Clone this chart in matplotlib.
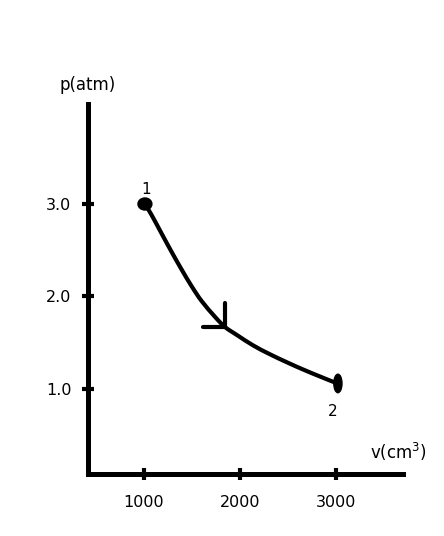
import matplotlib.pyplot as plt
from matplotlib.patches import Ellipse, PathPatch
from matplotlib.path import Path

# process curve (v in cm^3, p in atm)
v_curve = [1010, 1080, 1184, 1289, 1393, 1497, 1601, 1740, 1844,
           1966, 2139, 2313, 2486, 2659, 2833, 2990, 3020]
p_curve = [3.00, 2.88, 2.68, 2.48, 2.29, 2.11, 1.95, 1.78, 1.67,
           1.585, 1.47, 1.375, 1.29, 1.21, 1.135, 1.07, 1.06]

# arrow head drawn on the curve
arrow_h_v = [1615, 1844]
arrow_h_p = [1.67, 1.67]
arrow_v_v = [1844, 1844]
arrow_v_p = [1.93, 1.68]

x_ticks = [1000, 2000, 3000]
x_tick_labels = ["1000", "2000", "3000"]
y_ticks = [1.0, 2.0, 3.0]
y_tick_labels = ["1.0", "2.0", "3.0"]
state_labels = ["1", "2"]

plt.rcParams['font.family'] = ['DejaVu Sans']


def smooth_path(xs, ys):
    # catmull-rom through the read points, drawn as cubic bezier segments
    pts = list(zip(xs, ys))
    verts = [pts[0]]
    codes = [Path.MOVETO]
    for i in range(len(pts) - 1):
        p0 = pts[max(i - 1, 0)]
        p1 = pts[i]
        p2 = pts[i + 1]
        p3 = pts[min(i + 2, len(pts) - 1)]
        c1 = (p1[0] + (p2[0] - p0[0]) / 6, p1[1] + (p2[1] - p0[1]) / 6)
        c2 = (p2[0] - (p3[0] - p1[0]) / 6, p2[1] - (p3[1] - p1[1]) / 6)
        verts += [c1, c2, p2]
        codes += [Path.CURVE4] * 3
    return Path(verts, codes)


fig = plt.figure(figsize=(4.44, 5.36), dpi=100)
ax = fig.add_axes([88 / 444, 1 - 474 / 536, 315 / 444, 370 / 536])
ax.set_xlim(417, 3698)
ax.set_ylim(0.081, 4.081)

ax.add_patch(PathPatch(smooth_path(v_curve, p_curve), fill=False, color="black",
                       lw=3.0, capstyle="round", joinstyle="round"))
ax.plot(arrow_h_v, arrow_h_p, color="black", lw=3.0, solid_capstyle="round")
ax.plot(arrow_v_v, arrow_v_p, color="black", lw=3.0, solid_capstyle="round")

# end state dots
ax.add_patch(Ellipse((v_curve[0], p_curve[0]), 145, 0.13, color="black"))
ax.add_patch(Ellipse((v_curve[-1], p_curve[-1]), 85, 0.2, color="black"))

ax.text(v_curve[0] + 10, p_curve[0] + 0.08, state_labels[0], fontsize=11,
        ha="center", va="bottom")
ax.text(v_curve[-1] - 50, p_curve[-1] - 0.22, state_labels[1], fontsize=11,
        ha="center", va="top")

for side in ["top", "right"]:
    ax.spines[side].set_visible(False)
for side in ["left", "bottom"]:
    ax.spines[side].set_linewidth(3.6)
    ax.spines[side].set_capstyle("projecting")

ax.set_xticks(x_ticks)
ax.set_xticklabels(x_tick_labels)
ax.set_yticks(y_ticks)
ax.set_yticklabels(y_tick_labels)
ax.tick_params(axis="both", direction="inout", length=8, width=3, labelsize=11.5)
ax.tick_params(axis="x", pad=11)
ax.tick_params(axis="y", pad=8)

fig.text(88 / 444, 1 - 85 / 536, "p(atm)", fontsize=12, ha="center", va="center")
fig.text(398 / 444, 1 - 452 / 536, "v(cm$^3$)", fontsize=12, ha="center", va="center")

fig.savefig("out.png", dpi=100)
